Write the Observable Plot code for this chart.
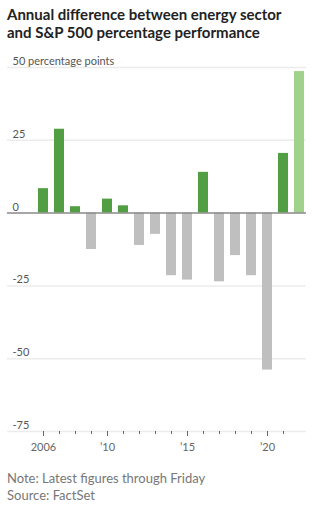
<!DOCTYPE html>
<html>
<head>
<meta charset="utf-8">
<script src="https://cdn.jsdelivr.net/npm/d3@7"></script>
<script src="https://cdn.jsdelivr.net/npm/@observablehq/plot@0.6"></script>
<style>
  body { margin: 0; background: #fff; width: 330px; overflow: hidden; }
  #title { font-family: Lato, "Open Sans", sans-serif; font-weight: bold; font-size: 15px; line-height: 18px; color: #222; padding: 5px 0 0 7px; height: 44px; box-sizing: border-box; }
  #chart svg { display: block; }
  #foot { font-family: Lato, "Open Sans", sans-serif; font-size: 13px; line-height: 17px; color: #777; padding: 6px 0 0 7px; }
</style>
</head>
<body>
<div id="title">Annual difference between energy sector<br>and S&amp;P 500 percentage performance</div>
<div id="chart"></div>
<div id="foot">Note: Latest figures through Friday<br>Source: FactSet</div>
<script>
const years = [2006, 2007, 2008, 2009, 2010, 2011, 2012, 2013, 2014, 2015, 2016, 2017, 2018, 2019, 2020, 2021, 2022];
const values = [8.4, 28.8, 2.2, -12.5, 4.8, 2.5, -11.1, -7.3, -21.5, -23.0, 14.0, -23.6, -14.6, -21.5, -53.9, 20.5, 48.6];
const yTicks = [50, 25, 0, -25, -50, -75];
const xTickYears = [2006, 2007, 2008, 2009, 2010, 2011, 2012, 2013, 2014, 2015, 2016, 2017, 2018, 2019, 2020, 2021];
const xLabelYears = [2006, 2010, 2015, 2020];
const xLabels = ["2006", "\u201910", "\u201915", "\u201920"];
const latestYear = 2022;

const data = years.map((year, i) => ({year, value: values[i]}));
const colorOf = d => d.year === latestYear ? "#a0d28c" : d.value >= 0 ? "#529f43" : "#bfbfbf";
const fontFamily = "Lato, 'Open Sans', sans-serif";

const chart = Plot.plot({
  width: 330,
  height: 420,
  marginTop: 23,
  marginBottom: 33,
  marginLeft: 7,
  marginRight: 24,
  style: {fontFamily, fontSize: "11px", color: "#555", background: "#fff"},
  x: {type: "band", domain: years, range: [31, 310], paddingInner: 0.38, paddingOuter: 0.38, label: null},
  y: {domain: [-75, 50], label: null},
  marks: [
    Plot.ruleY(yTicks.filter(t => t !== 0), {stroke: "#ececec", strokeWidth: 1.5}),
    Plot.barY(data, {x: "year", y: "value", fill: colorOf}),
    Plot.ruleY([0], {stroke: "#888", strokeWidth: 1.5}),
    Plot.axisY(yTicks, {
      tickSize: 0, tickPadding: 0, textAnchor: "start", dx: 5, dy: -6, label: null,
      fill: "#555", fontSize: 11,
      tickFormat: d => d === 50 ? "50 percentage points" : String(d)
    }),
    Plot.axisX(xTickYears, {tickSize: 3, tickFormat: null, stroke: "#666", label: null}),
    Plot.axisX(xLabelYears, {
      tickSize: 5, tickPadding: 7, stroke: "#666", fill: "#666", fontSize: 11, label: null,
      tickFormat: d => xLabels[xLabelYears.indexOf(d)]
    })
  ]
});
document.getElementById("chart").appendChild(chart);
</script>
</body>
</html>
